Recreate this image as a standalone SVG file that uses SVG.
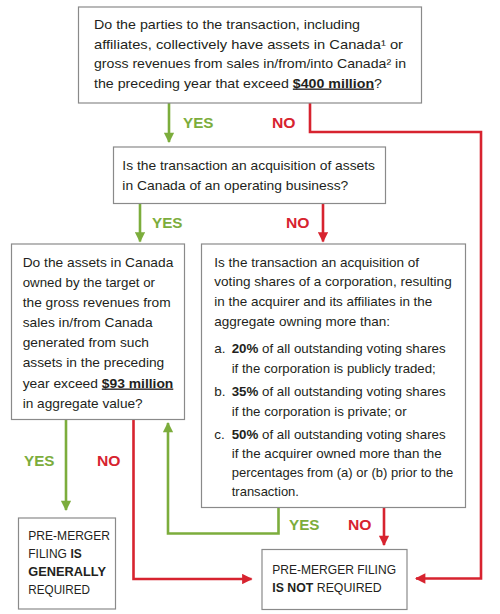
<svg xmlns="http://www.w3.org/2000/svg" width="500" height="614" viewBox="0 0 500 614">
<defs>
<style>
.box{fill:#fff;stroke:#8a8a8a;stroke-width:1.2}
.t{font-family:"Liberation Sans",Arial,sans-serif;font-size:13.5px;fill:#231f20}
.b{font-weight:bold}
.u{text-decoration:underline}
.g{fill:none;stroke:#7cad3c;stroke-width:2.6}
.r{fill:none;stroke:#d7232f;stroke-width:2.6}
.gl{font-family:"Liberation Sans",Arial,sans-serif;font-size:15.5px;font-weight:bold;fill:#7cad3c}
.rl{font-family:"Liberation Sans",Arial,sans-serif;font-size:15.5px;font-weight:bold;fill:#d7232f}
</style>
<marker id="ag" viewBox="0 0 10 10" refX="9" refY="5" markerWidth="4.2" markerHeight="4" orient="auto" markerUnits="strokeWidth"><path d="M0,0 L10,5 L0,10 z" fill="#7cad3c"/></marker>
<marker id="ar" viewBox="0 0 10 10" refX="9" refY="5" markerWidth="4.2" markerHeight="4" orient="auto" markerUnits="strokeWidth"><path d="M0,0 L10,5 L0,10 z" fill="#d7232f"/></marker>
</defs>
<rect width="500" height="614" fill="#fff"/>
<g id="connectors">
<path class="g" d="M169,103 V142" marker-end="url(#ag)"/>
<path class="r" d="M310,103 V132 H481 V578.5 H416" marker-end="url(#ar)"/>
<path class="g" d="M140,203 V241.5" marker-end="url(#ag)"/>
<path class="r" d="M323,203 V241.5" marker-end="url(#ar)"/>
<path class="g" d="M66,419 V510" marker-end="url(#ag)"/>
<path class="r" d="M133.5,419 V579 H251.5" marker-end="url(#ar)"/>
<path class="g" d="M278.5,507 V533.5 H168 V423" marker-end="url(#ag)"/>
<path class="r" d="M384,507 V545" marker-end="url(#ar)"/>
<text class="gl" x="183" y="128" textLength="30.5" lengthAdjust="spacingAndGlyphs">YES</text>
<text class="rl" x="272" y="128" textLength="23.5" lengthAdjust="spacingAndGlyphs">NO</text>
<text class="gl" x="152" y="228" textLength="30.5" lengthAdjust="spacingAndGlyphs">YES</text>
<text class="rl" x="286" y="228" textLength="23.5" lengthAdjust="spacingAndGlyphs">NO</text>
<text class="gl" x="24" y="466" textLength="30.5" lengthAdjust="spacingAndGlyphs">YES</text>
<text class="rl" x="97" y="466" textLength="23.5" lengthAdjust="spacingAndGlyphs">NO</text>
<text class="gl" x="289" y="530" textLength="30.5" lengthAdjust="spacingAndGlyphs">YES</text>
<text class="rl" x="348" y="530" textLength="23.5" lengthAdjust="spacingAndGlyphs">NO</text>
</g>
<g id="q1">
<rect class="box" x="78.5" y="7" width="343" height="96"/>
<text class="t" x="94" y="29" textLength="266" lengthAdjust="spacingAndGlyphs">Do the parties to the transaction, including</text>
<text class="t" x="94" y="48.5" textLength="309" lengthAdjust="spacingAndGlyphs">affiliates, collectively have assets in Canada¹ or</text>
<text class="t" x="94" y="68" textLength="312" lengthAdjust="spacingAndGlyphs">gross revenues from sales in/from/into Canada² in</text>
<text class="t" x="94" y="87.5" textLength="288" lengthAdjust="spacingAndGlyphs">the preceding year that exceed <tspan class="b u">$400 million</tspan>?</text>
</g>
<g id="q2">
<rect class="box" x="113.5" y="147" width="272" height="56.5"/>
<text class="t" x="122.3" y="170" textLength="252.7" lengthAdjust="spacingAndGlyphs">Is the transaction an acquisition of assets</text>
<text class="t" x="122.3" y="190" textLength="226" lengthAdjust="spacingAndGlyphs">in Canada of an operating business?</text>
</g>
<g id="q3">
<rect class="box" x="11.5" y="244" width="173" height="175.5"/>
<text class="t" x="22.7" y="267" textLength="150.6" lengthAdjust="spacingAndGlyphs">Do the assets in Canada</text>
<text class="t" x="22.7" y="287" textLength="132.3" lengthAdjust="spacingAndGlyphs">owned by the target or</text>
<text class="t" x="22.7" y="307" textLength="148" lengthAdjust="spacingAndGlyphs">the gross revenues from</text>
<text class="t" x="22.7" y="327" textLength="130" lengthAdjust="spacingAndGlyphs">sales in/from Canada</text>
<text class="t" x="22.7" y="347" textLength="126.3" lengthAdjust="spacingAndGlyphs">generated from such</text>
<text class="t" x="22.7" y="367" textLength="141.6" lengthAdjust="spacingAndGlyphs">assets in the preceding</text>
<text class="t" x="22.7" y="387.5" textLength="150.6" lengthAdjust="spacingAndGlyphs">year exceed <tspan class="b u">$93 million</tspan></text>
<text class="t" x="22.7" y="407.5" textLength="120" lengthAdjust="spacingAndGlyphs">in aggregate value?</text>
</g>
<g id="q4">
<rect class="box" x="201.5" y="244" width="264" height="263.5"/>
<text class="t" x="214.3" y="266.5" textLength="204.7" lengthAdjust="spacingAndGlyphs">Is the transaction an acquisition of</text>
<text class="t" x="214.3" y="286" textLength="237.4" lengthAdjust="spacingAndGlyphs">voting shares of a corporation, resulting</text>
<text class="t" x="214.3" y="306" textLength="218" lengthAdjust="spacingAndGlyphs">in the acquirer and its affiliates in the</text>
<text class="t" x="214.3" y="326" textLength="175.7" lengthAdjust="spacingAndGlyphs">aggregate owning more than:</text>
<text class="t" x="214.3" y="353">a.</text>
<text class="t" x="231.7" y="353" textLength="214" lengthAdjust="spacingAndGlyphs"><tspan class="b">20%</tspan> of all outstanding voting shares</text>
<text class="t" x="231.7" y="373" textLength="204" lengthAdjust="spacingAndGlyphs">if the corporation is publicly traded;</text>
<text class="t" x="214.3" y="396">b.</text>
<text class="t" x="231.7" y="396" textLength="214" lengthAdjust="spacingAndGlyphs"><tspan class="b">35%</tspan> of all outstanding voting shares</text>
<text class="t" x="231.7" y="415.5" textLength="175" lengthAdjust="spacingAndGlyphs">if the corporation is private; or</text>
<text class="t" x="214.3" y="438.5">c.</text>
<text class="t" x="231.7" y="438.5" textLength="214" lengthAdjust="spacingAndGlyphs"><tspan class="b">50%</tspan> of all outstanding voting shares</text>
<text class="t" x="231.7" y="458" textLength="210" lengthAdjust="spacingAndGlyphs">if the acquirer owned more than the</text>
<text class="t" x="231.7" y="477" textLength="221.6" lengthAdjust="spacingAndGlyphs">percentages from (a) or (b) prior to the</text>
<text class="t" x="231.7" y="496" textLength="67.3" lengthAdjust="spacingAndGlyphs">transaction.</text>
</g>
<g id="r1">
<rect class="box" x="18.5" y="518" width="97" height="91"/>
<text class="t" x="28.3" y="540" textLength="81.7" lengthAdjust="spacingAndGlyphs">PRE-MERGER</text>
<text class="t" x="28.3" y="558" textLength="38.6" lengthAdjust="spacingAndGlyphs">FILING</text>
<text class="t b" x="70.4" y="558" textLength="11.3" lengthAdjust="spacingAndGlyphs">IS</text>
<text class="t b" x="28.3" y="576" textLength="77.7" lengthAdjust="spacingAndGlyphs">GENERALLY</text>
<text class="t" x="28.3" y="594" textLength="61.7" lengthAdjust="spacingAndGlyphs">REQUIRED</text>
</g>
<g id="r2">
<rect class="box" x="262" y="549.5" width="145" height="60"/>
<text class="t" x="272.3" y="574" textLength="123.7" lengthAdjust="spacingAndGlyphs">PRE-MERGER FILING</text>
<text class="t" x="272.3" y="592" textLength="109.4" lengthAdjust="spacingAndGlyphs"><tspan class="b">IS NOT</tspan> REQUIRED</text>
</g>
</svg>
